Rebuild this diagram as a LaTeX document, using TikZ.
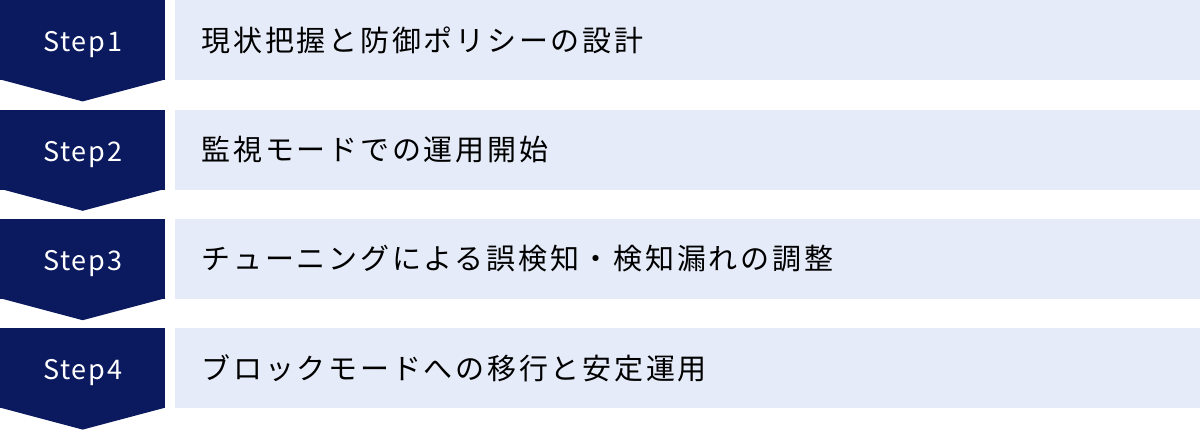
\documentclass[tikz,border=0pt]{standalone}
\usepackage{fontspec}
\newfontfamily\jpfont{Noto Sans CJK JP}
\usetikzlibrary{positioning, calc}
\definecolor{stepnavy}{RGB}{11,25,94}
\definecolor{rowblue}{RGB}{229,235,248}

\begin{document}
\begin{tikzpicture}[x=1pt,y=1pt,stepbox/.style={rectangle,fill=stepnavy,text=white,minimum width=165pt,minimum height=80pt,inner sep=0pt,text height=23pt,text depth=0pt,font=\jpfont\fontsize{27}{30}\selectfont\addfontfeatures{LetterSpace=7}},node distance = 29pt and 9pt, rowbox/.style={rectangle,fill=rowblue,minimum height=80pt,inner xsep=27pt,inner ysep=0pt,text width=972pt,align=left,font=\jpfont\fontsize{29}{32}\selectfont\addfontfeatures{LetterSpace=9.5}}  ]
\useasboundingbox (0,0) rectangle (1200,-429);
\node (s1) [stepbox, anchor=north west] at (0,0) {Step1} ;
\node (s2) [stepbox, below=of s1] {Step2};
\node (s3) [stepbox, below=of s2] {Step3};
\node (s4) [stepbox, below=of s3] {Step4};
\node (r1) [rowbox, right=of s1] {現状把握と防御ポリシーの設計};
\node (r2) [rowbox, right=of s2] {監視モードでの運用開始};
\node (r3) [rowbox, right=of s3] {チューニングによる誤検知・検知漏れの調整};
\node (r4) [rowbox, right=of s4] {ブロックモードへの移行と安定運用};
  \begin{scope}
    \fill [stepnavy] ($(s1.south west)+(0,1)$) -- ($(s1.south east)+(0,1)$) -- ($(s1.south)+(0,-21)$) -- cycle;
    \fill [stepnavy] ($(s2.south west)+(0,1)$) -- ($(s2.south east)+(0,1)$) -- ($(s2.south)+(0,-21)$) -- cycle;
    \fill [stepnavy] ($(s3.south west)+(0,1)$) -- ($(s3.south east)+(0,1)$) -- ($(s3.south)+(0,-21)$) -- cycle;
    \fill [stepnavy] ($(s4.south west)+(0,1)$) -- ($(s4.south east)+(0,1)$) -- ($(s4.south)+(0,-21)$) -- cycle;
  \end{scope}
\end{tikzpicture}
\end{document}
